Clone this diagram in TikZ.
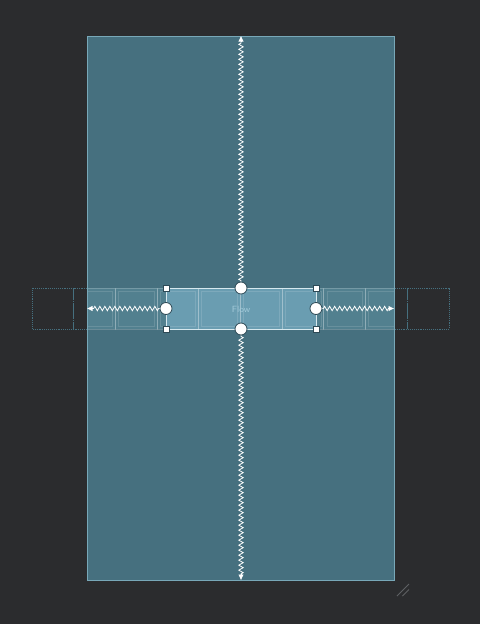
\documentclass[tikz,border=0pt]{standalone}
\usetikzlibrary{decorations.pathmorphing,arrows.meta}
\definecolor{bg}{HTML}{2B2C2E}
\definecolor{mainfill}{HTML}{46707F}
\definecolor{mainborder}{HTML}{78A8B8}
\definecolor{bandfill}{HTML}{52808F}
\definecolor{dotline}{HTML}{46707F}
\definecolor{flowfill}{HTML}{6A9DB1}
\definecolor{flowline}{HTML}{D6E8EE}
\definecolor{flowtext}{HTML}{A3CBDA}
\definecolor{handleline}{HTML}{2E4A56}
\definecolor{resize}{HTML}{5E6063}
\tikzset{
  spring/.style={draw=white, line width=0.8pt,
    decorate, decoration={zigzag, segment length=5pt, amplitude=2.2pt, pre length=1pt, post length=5pt}},
  tipend/.style={-{Triangle[width=5pt,length=5pt]}},
  circhandle/.style={circle, fill=white, draw=handleline, line width=0.8pt, minimum size=12pt, inner sep=0pt},
  sqhandle/.style={rectangle, fill=white, draw=handleline, line width=0.5pt, minimum size=5.5pt, inner sep=0pt},
  boxouter/.style={draw=white, draw opacity=0.2, line width=0.9pt},
  boxinner/.style={draw=white, draw opacity=0.13, line width=0.7pt},
}
\begin{document}
\begin{tikzpicture}[x=1pt,y=-1pt]
\fill[bg] (0,0) rectangle (480,624);
\useasboundingbox (0,0) rectangle (480,624);
% main container
\fill[mainfill] (87,36) rectangle (394,580);
% outside dotted boxes
\begin{scope}[draw=dotline, line width=0.9pt, densely dotted]
  \foreach \i in {0,1,8,9} {
    \draw ({32+41.7*\i},288) rectangle ({32+41.7*(\i+1)},329);
  }
\end{scope}
% band inside
\fill[bandfill] (87,288) rectangle (394,329);
\fill[flowfill] (166,288) rectangle (316,329);
\begin{scope}
  \clip (87,288) rectangle (394,329);
  \foreach \i in {0,...,9} {
    \draw[boxouter] ({32+41.7*\i},288) rectangle ({32+41.7*(\i+1)},329);
    \draw[boxinner] ({32+41.7*\i+3},291) rectangle ({32+41.7*(\i+1)-3},326);
  }
\end{scope}
\draw[mainborder, line width=0.8pt] (87,36) rectangle (394,580);
% flow widget
\draw[flowline, line width=0.9pt] (166,288) rectangle (316,329);
\node[text=flowtext, font=\sffamily\fontsize{9}{10}\selectfont] (flow) at (241,309.5) {Flow};
% end coordinates
\coordinate (topend) at (241,36.5);
\coordinate (botend) at (241,579.5);
\coordinate (leftend) at (87.5,308.5);
\coordinate (rightend) at (393.5,308.5);
% handles
\node[circhandle] (ht) at (241,288) {};
\node[circhandle] (hb) at (241,329) {};
\node[circhandle] (hl) at (166,308.5) {};
\node[circhandle] (hr) at (316,308.5) {};
% springs
\draw[spring] (ht) -- (topend);
\draw[spring] (hb) -- (botend);
\draw[spring] (hl) -- (leftend);
\draw[spring] (hr) -- (rightend);
\draw[white, tipend, line width=0.8pt] (241,42) -- (topend);
\draw[white, tipend, line width=0.8pt] (241,574) -- (botend);
\draw[white, tipend, line width=0.8pt] (93,308.5) -- (leftend);
\draw[white, tipend, line width=0.8pt] (388,308.5) -- (rightend);
% corner handles
\node[sqhandle] (c1) at (166,288) {};
\node[sqhandle] (c2) at (316,288) {};
\node[sqhandle] (c3) at (166,329) {};
\node[sqhandle] (c4) at (316,329) {};
% resize mark
\draw[resize, line width=0.8pt] (397,596) -- (409,584);
\draw[resize, line width=0.8pt] (402.5,596) -- (409,589.5);
\end{tikzpicture}
\end{document}
